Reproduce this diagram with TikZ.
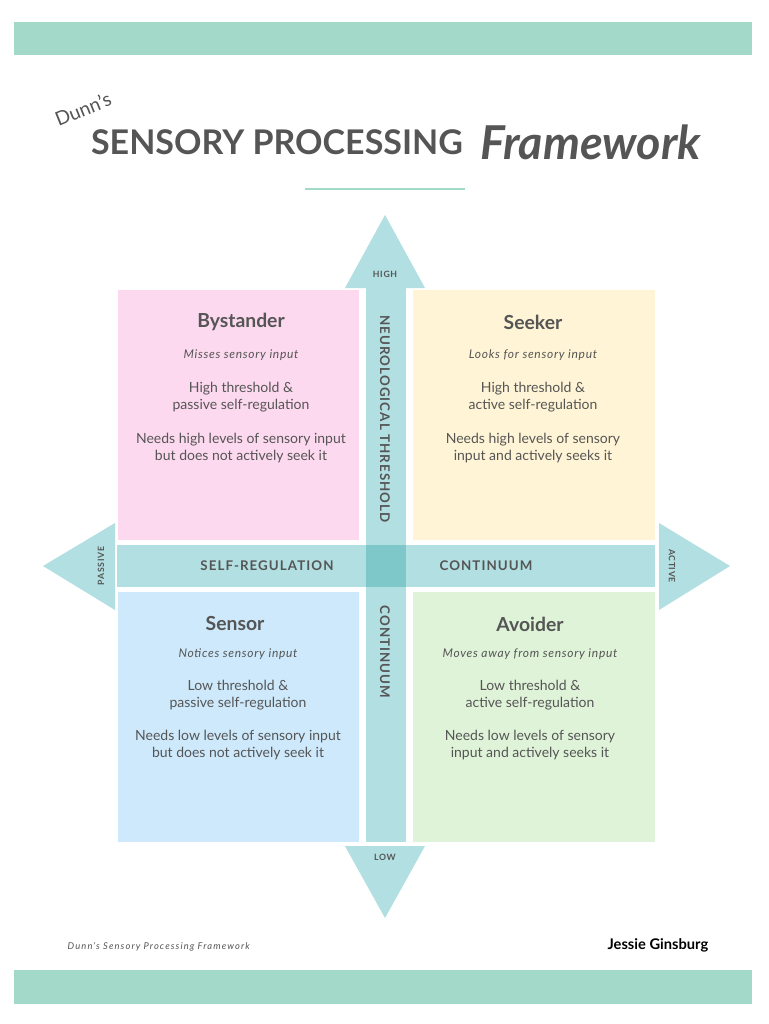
\documentclass[tikz,border=0pt]{standalone}
\usepackage{fontspec}
\setmainfont{Lato}
\usetikzlibrary{positioning}
\definecolor{mint}{HTML}{A3D9C9}
\definecolor{barblue}{HTML}{B2DFE2}
\definecolor{bardark}{HTML}{7EC8CA}
\definecolor{ink}{HTML}{555555}
\definecolor{pinkq}{HTML}{FDD9EF}
\definecolor{yellowq}{HTML}{FFF5D6}
\definecolor{blueq}{HTML}{CDE9FB}
\definecolor{greenq}{HTML}{DFF3D8}
\begin{document}
\begin{tikzpicture}[x=0.75pt,y=-0.75pt,
    % quadrant boxes and their texts
    qtitle/.style={font=\fontsize{14.5}{16}\selectfont\bfseries, text=ink},
    qitalic/.style={font=\fontsize{9}{11}\selectfont\itshape\addfontfeature{LetterSpace=6}, text=ink},
    qbody/.style={font=\fontsize{10.5}{12.8}\selectfont, text=ink, align=center},
    % axis labels
    axis label/.style={font=\fontsize{10}{11}\selectfont\bfseries\addfontfeature{LetterSpace=8}, text=ink},
    tiny label/.style={font=\fontsize{6.5}{7}\selectfont\bfseries\addfontfeature{LetterSpace=8}, text=ink},
  ]
  \useasboundingbox (0,0) rectangle (768,1024);
  \fill[white] (0,0) rectangle (768,1024);
  \fill[mint] (14,22) rectangle (752,55);
  \fill[mint] (14,970) rectangle (752,1004);

  % --- title ---
  \node[font=\fontsize{25.5}{28}\selectfont\bfseries, text=ink] (title) at (277,142) {SENSORY PROCESSING};
  \node[font=\fontsize{35}{36}\selectfont\itshape\bfseries, text=ink, right=6pt of title] (script) {Framework};
  \node[font=\fontsize{14.5}{16}\selectfont, text=ink, rotate=22, inner sep=0pt] (dunn) at (83,109) {Dunn's};
  \draw[mint, line width=2.2pt] (305,189) -- (465,189);

  % --- quadrants ---
  \fill[pinkq]   (118,290) rectangle (359,540);
  \fill[yellowq] (413,290) rectangle (655,540);
  \fill[blueq]   (118,592) rectangle (359,842);
  \fill[greenq]  (413,592) rectangle (655,842);

  % --- arrows and bars ---
  \fill[barblue] (385,215) -- (425,288) -- (345,288) -- cycle;
  \fill[barblue] (385,918) -- (425,846) -- (345,846) -- cycle;
  \fill[barblue] (43,566) -- (115,523) -- (115,610) -- cycle;
  \fill[barblue] (730,566) -- (659,523) -- (659,610) -- cycle;
  \fill[barblue] (366,288) rectangle (406,842);
  \fill[barblue] (117,545) rectangle (655,587);
  \fill[bardark] (366,545) rectangle (406,587);

  \node[tiny label] (high) at (385,274) {HIGH};
  \node[tiny label] (low) at (385,857) {LOW};
  \node[tiny label, rotate=90] (passive) at (101,566) {PASSIVE};
  \node[tiny label, rotate=-90] (active) at (672,566) {ACTIVE};
  \node[axis label] (selfreg) at (267,566) {SELF-REGULATION};
  \node[axis label] (hcont) at (486,566) {CONTINUUM};
  \node[axis label, rotate=-90] (neuro) at (385,419) {NEUROLOGICAL THRESHOLD};
  \node[axis label, rotate=-90] (vcont) at (385,652) {CONTINUUM};

  % --- quadrant texts ---
  \node[qtitle] (bystander) at (241,322) {Bystander};
  \node[qitalic] at (241,355) {Misses sensory input};
  \node[qbody] at (241,397) {High threshold \&\\passive self-regulation};
  \node[qbody] at (241,448) {Needs high levels of sensory input\\but does not actively seek it};

  \node[qtitle] (seeker) at (533,322) {Seeker};
  \node[qitalic] at (533,355) {Looks for sensory input};
  \node[qbody] at (533,397) {High threshold \&\\active self-regulation};
  \node[qbody] at (533,448) {Needs high levels of sensory\\input and actively seeks it};

  \node[qtitle] (sensor) at (235,624) {Sensor};
  \node[qitalic] at (238,654) {Notices sensory input};
  \node[qbody] at (238,695) {Low threshold \&\\passive self-regulation};
  \node[qbody] at (238,745) {Needs low levels of sensory input\\but does not actively seek it};

  \node[qtitle] (avoider) at (530,624) {Avoider};
  \node[qitalic] at (530,654) {Moves away from sensory input};
  \node[qbody] at (530,695) {Low threshold \&\\active self-regulation};
  \node[qbody] at (530,745) {Needs low levels of sensory\\input and actively seeks it};

  % --- footer ---
  \node[font=\fontsize{7}{8}\selectfont\itshape\addfontfeature{LetterSpace=12}, text=ink, anchor=west] (footer) at (63,947) {Dunn's Sensory Processing Framework};
  \node[font=\fontsize{11}{12}\selectfont\bfseries, anchor=east] (brand) at (713,945) {Jessie Ginsburg};
\end{tikzpicture}
\end{document}
